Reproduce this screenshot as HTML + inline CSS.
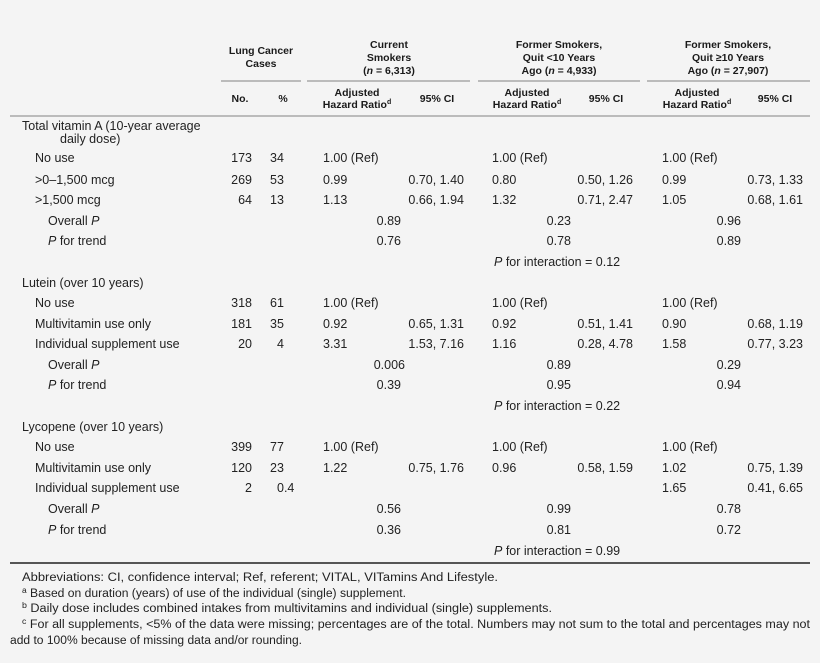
<!DOCTYPE html>
<html><head><meta charset="utf-8"><style>
html,body{margin:0;padding:0;background:#f4f4f4;}
svg{display:block;font-family:"Liberation Sans",Arial,sans-serif;}
.h{font-weight:bold;font-size:10.5px;fill:#1a1a1a;}
.b{font-size:12.5px;fill:#222;}
.f{font-size:11.5px;fill:#222;}
.m{text-anchor:middle}.e{text-anchor:end}
</style></head><body>
<svg width="820" height="663" viewBox="0 0 820 663">
<rect width="820" height="663" fill="#f4f4f4"/>
<g class="h">
<text class="m" x="261" y="54">Lung Cancer</text><text class="m" x="261" y="67">Cases</text>
<text class="m" x="389" y="48">Current</text><text class="m" x="389" y="61">Smokers</text><text class="m" x="389" y="74">(<tspan font-style="italic">n</tspan> = 6,313)</text>
<text class="m" x="559" y="48">Former Smokers,</text><text class="m" x="559" y="61">Quit &lt;10 Years</text><text class="m" x="559" y="74">Ago (<tspan font-style="italic">n</tspan> = 4,933)</text>
<text class="m" x="728" y="48">Former Smokers,</text><text class="m" x="728" y="61">Quit ≥10 Years</text><text class="m" x="728" y="74">Ago (<tspan font-style="italic">n</tspan> = 27,907)</text>
<text class="m" x="240" y="102">No.</text><text class="m" x="283" y="102">%</text>
<text class="m" x="357" y="96">Adjusted</text><text class="m" x="357" y="108">Hazard Ratio<tspan font-size="7" dy="-4">d</tspan></text>
<text class="m" x="437" y="102">95% CI</text>
<text class="m" x="527" y="96">Adjusted</text><text class="m" x="527" y="108">Hazard Ratio<tspan font-size="7" dy="-4">d</tspan></text>
<text class="m" x="606" y="102">95% CI</text>
<text class="m" x="697" y="96">Adjusted</text><text class="m" x="697" y="108">Hazard Ratio<tspan font-size="7" dy="-4">d</tspan></text>
<text class="m" x="775" y="102">95% CI</text>
</g>
<g stroke="#999" stroke-width="1.2">
<line x1="221" y1="81" x2="301" y2="81"/><line x1="307" y1="81" x2="470" y2="81"/>
<line x1="478" y1="81" x2="640" y2="81"/><line x1="647" y1="81" x2="810" y2="81"/>
<line x1="10" y1="116" x2="810" y2="116"/>
</g>
<line x1="10" y1="563" x2="810" y2="563" stroke="#555" stroke-width="2"/>
<g class="b">
<text x="22" y="130">Total vitamin A (10-year average</text><text x="60" y="143">daily dose)</text>
<text x="35" y="162">No use</text><text class="e" x="252" y="162">173</text><text x="270" y="162">34</text><text x="323" y="162">1.00 (Ref)</text><text x="492" y="162">1.00 (Ref)</text><text x="662" y="162">1.00 (Ref)</text>
<text x="35" y="184">&gt;0–1,500 mcg</text><text class="e" x="252" y="184">269</text><text x="270" y="184">53</text><text x="323" y="184">0.99</text><text class="e" x="464" y="184">0.70, 1.40</text><text x="492" y="184">0.80</text><text class="e" x="633" y="184">0.50, 1.26</text><text x="662" y="184">0.99</text><text class="e" x="803" y="184">0.73, 1.33</text>
<text x="35" y="204">&gt;1,500 mcg</text><text class="e" x="252" y="204">64</text><text x="270" y="204">13</text><text x="323" y="204">1.13</text><text class="e" x="464" y="204">0.66, 1.94</text><text x="492" y="204">1.32</text><text class="e" x="633" y="204">0.71, 2.47</text><text x="662" y="204">1.05</text><text class="e" x="803" y="204">0.68, 1.61</text>
<text x="48" y="225">Overall <tspan font-style="italic">P</tspan></text><text class="e" x="401" y="225">0.89</text><text class="e" x="571" y="225">0.23</text><text class="e" x="741" y="225">0.96</text>
<text x="48" y="245"><tspan font-style="italic">P</tspan> for trend</text><text class="e" x="401" y="245">0.76</text><text class="e" x="571" y="245">0.78</text><text class="e" x="741" y="245">0.89</text>
<text x="494" y="266"><tspan font-style="italic">P</tspan> for interaction = 0.12</text>

<text x="22" y="287">Lutein (over 10 years)</text>
<text x="35" y="307">No use</text><text class="e" x="252" y="307">318</text><text x="270" y="307">61</text><text x="323" y="307">1.00 (Ref)</text><text x="492" y="307">1.00 (Ref)</text><text x="662" y="307">1.00 (Ref)</text>
<text x="35" y="328">Multivitamin use only</text><text class="e" x="252" y="328">181</text><text x="270" y="328">35</text><text x="323" y="328">0.92</text><text class="e" x="464" y="328">0.65, 1.31</text><text x="492" y="328">0.92</text><text class="e" x="633" y="328">0.51, 1.41</text><text x="662" y="328">0.90</text><text class="e" x="803" y="328">0.68, 1.19</text>
<text x="35" y="348">Individual supplement use</text><text class="e" x="252" y="348">20</text><text x="277" y="348">4</text><text x="323" y="348">3.31</text><text class="e" x="464" y="348">1.53, 7.16</text><text x="492" y="348">1.16</text><text class="e" x="633" y="348">0.28, 4.78</text><text x="662" y="348">1.58</text><text class="e" x="803" y="348">0.77, 3.23</text>
<text x="48" y="369">Overall <tspan font-style="italic">P</tspan></text><text class="e" x="405" y="369">0.006</text><text class="e" x="571" y="369">0.89</text><text class="e" x="741" y="369">0.29</text>
<text x="48" y="389"><tspan font-style="italic">P</tspan> for trend</text><text class="e" x="401" y="389">0.39</text><text class="e" x="571" y="389">0.95</text><text class="e" x="741" y="389">0.94</text>
<text x="494" y="410"><tspan font-style="italic">P</tspan> for interaction = 0.22</text>

<text x="22" y="431">Lycopene (over 10 years)</text>
<text x="35" y="451">No use</text><text class="e" x="252" y="451">399</text><text x="270" y="451">77</text><text x="323" y="451">1.00 (Ref)</text><text x="492" y="451">1.00 (Ref)</text><text x="662" y="451">1.00 (Ref)</text>
<text x="35" y="472">Multivitamin use only</text><text class="e" x="252" y="472">120</text><text x="270" y="472">23</text><text x="323" y="472">1.22</text><text class="e" x="464" y="472">0.75, 1.76</text><text x="492" y="472">0.96</text><text class="e" x="633" y="472">0.58, 1.59</text><text x="662" y="472">1.02</text><text class="e" x="803" y="472">0.75, 1.39</text>
<text x="35" y="492">Individual supplement use</text><text class="e" x="252" y="492">2</text><text x="277" y="492">0.4</text><text x="662" y="492">1.65</text><text class="e" x="803" y="492">0.41, 6.65</text>
<text x="48" y="513">Overall <tspan font-style="italic">P</tspan></text><text class="e" x="401" y="513">0.56</text><text class="e" x="571" y="513">0.99</text><text class="e" x="741" y="513">0.78</text>
<text x="48" y="534"><tspan font-style="italic">P</tspan> for trend</text><text class="e" x="401" y="534">0.36</text><text class="e" x="571" y="534">0.81</text><text class="e" x="741" y="534">0.72</text>
<text x="494" y="555"><tspan font-style="italic">P</tspan> for interaction = 0.99</text>
</g>
<g class="f">
<text x="22" y="581" textLength="476" lengthAdjust="spacingAndGlyphs">Abbreviations: CI, confidence interval; Ref, referent; VITAL, VITamins And Lifestyle.</text>
<text x="22" y="597" textLength="384" lengthAdjust="spacingAndGlyphs"><tspan font-size="8" dy="-4">a</tspan><tspan dy="4"> Based on duration (years) of use of the individual (single) supplement.</tspan></text>
<text x="22" y="612" textLength="530" lengthAdjust="spacingAndGlyphs"><tspan font-size="8" dy="-4">b</tspan><tspan dy="4"> Daily dose includes combined intakes from multivitamins and individual (single) supplements.</tspan></text>
<text x="22" y="628" textLength="788" lengthAdjust="spacingAndGlyphs"><tspan font-size="8" dy="-4">c</tspan><tspan dy="4"> For all supplements, &lt;5% of the data were missing; percentages are of the total. Numbers may not sum to the total and percentages may not</tspan></text>
<text x="10" y="644" textLength="292" lengthAdjust="spacingAndGlyphs">add to 100% because of missing data and/or rounding.</text>
</g>
</svg>
</body></html>
